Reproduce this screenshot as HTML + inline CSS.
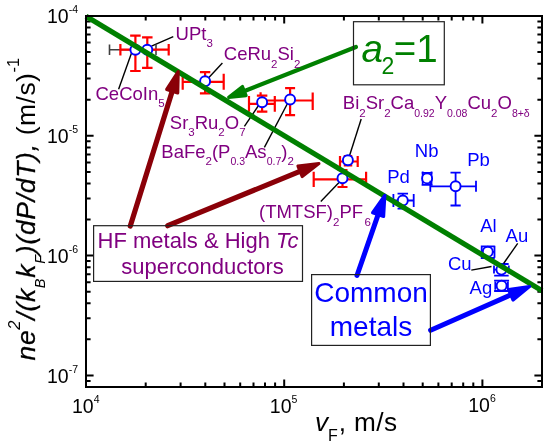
<!DOCTYPE html><html><head><meta charset="utf-8"><style>html,body{margin:0;padding:0;background:#fff;width:550px;height:446px;overflow:hidden}svg{display:block}text{font-family:"Liberation Sans",Arial,sans-serif}</style></head><body><svg width="550" height="446" viewBox="0 0 550 446"><rect x="0" y="0" width="550" height="446" fill="#fff"/><path d="M145.7 387V382.4M145.7 16V20.6M180.6 387V382.4M180.6 16V20.6M205.3 387V382.4M205.3 16V20.6M224.5 387V382.4M224.5 16V20.6M240.2 387V382.4M240.2 16V20.6M253.5 387V382.4M253.5 16V20.6M265.0 387V382.4M265.0 16V20.6M275.1 387V382.4M275.1 16V20.6M284.2 387V379.4M284.2 16V23.6M343.9 387V382.4M343.9 16V20.6M378.8 387V382.4M378.8 16V20.6M403.5 387V382.4M403.5 16V20.6M422.7 387V382.4M422.7 16V20.6M438.4 387V382.4M438.4 16V20.6M451.7 387V382.4M451.7 16V20.6M463.2 387V382.4M463.2 16V20.6M473.3 387V382.4M473.3 16V20.6M482.4 387V379.4M482.4 16V23.6M86 135.8H93.6M542 135.8H534.4M86 99.7H90.6M542 99.7H537.4M86 78.6H90.6M542 78.6H537.4M86 63.7H90.6M542 63.7H537.4M86 52.1H90.6M542 52.1H537.4M86 42.6H90.6M542 42.6H537.4M86 34.6H90.6M542 34.6H537.4M86 27.6H90.6M542 27.6H537.4M86 21.5H90.6M542 21.5H537.4M86 255.6H93.6M542 255.6H534.4M86 219.5H90.6M542 219.5H537.4M86 198.4H90.6M542 198.4H537.4M86 183.5H90.6M542 183.5H537.4M86 171.9H90.6M542 171.9H537.4M86 162.4H90.6M542 162.4H537.4M86 154.4H90.6M542 154.4H537.4M86 147.4H90.6M542 147.4H537.4M86 141.3H90.6M542 141.3H537.4M86 375.4H93.6M542 375.4H534.4M86 339.3H90.6M542 339.3H537.4M86 318.2H90.6M542 318.2H537.4M86 303.3H90.6M542 303.3H537.4M86 291.7H90.6M542 291.7H537.4M86 282.2H90.6M542 282.2H537.4M86 274.2H90.6M542 274.2H537.4M86 267.2H90.6M542 267.2H537.4M86 261.1H90.6M542 261.1H537.4M86 380.9H90.6M542 380.9H537.4" stroke="#000" stroke-width="2" fill="none"/><line x1="118.6" y1="89.3" x2="131.7" y2="52.5" stroke="#000" stroke-width="1.4"/><line x1="151.5" y1="46.2" x2="173.3" y2="36.7" stroke="#000" stroke-width="1.4"/><line x1="208.2" y1="78.2" x2="222.4" y2="63.1" stroke="#000" stroke-width="1.4"/><line x1="244.4" y1="126.4" x2="258.5" y2="105.5" stroke="#000" stroke-width="1.4"/><line x1="264.4" y1="147.3" x2="287.5" y2="103.5" stroke="#000" stroke-width="1.4"/><line x1="361.2" y1="119" x2="349.5" y2="155.8" stroke="#000" stroke-width="1.4"/><line x1="320.8" y1="201.5" x2="339" y2="182.5" stroke="#000" stroke-width="1.4"/><path d="M109.5 49.7H156M109.5 44.45v10.5M156 44.45v10.5" stroke="#404040" stroke-width="1.6" fill="none"/><path d="M135.4 35.7V71M130.15 35.7h10.5M130.15 71h10.5" stroke="#ff0000" stroke-width="2.2" fill="none"/><path d="M120.4 49.7H168.7M120.4 43.95v11.5M168.7 43.95v11.5M147.3 37.4V67.9M142.05 37.4h10.5M142.05 67.9h10.5" stroke="#ff0000" stroke-width="2.2" fill="none"/><circle cx="135.4" cy="49.7" r="5.0" fill="#fff" stroke="#0000ff" stroke-width="1.9"/><circle cx="147.3" cy="49.7" r="5.0" fill="#fff" stroke="#0000ff" stroke-width="1.9"/><path d="M182.7 81.8H223.7M182.7 73.8v16M223.7 73.8v16M205.1 72.1V93.4M199.9 72.1h10.4M199.9 93.4h10.4" stroke="#ff0000" stroke-width="2.2" fill="none"/><circle cx="205.1" cy="81.3" r="5.0" fill="#fff" stroke="#0000ff" stroke-width="1.9"/><path d="M249 103.8H274.8M249 95.89999999999999v15.8M274.8 95.89999999999999v15.8M262.1 95.6V111.6M256.85 95.6h10.5M256.85 111.6h10.5" stroke="#ff0000" stroke-width="2.2" fill="none"/><path d="M260.6 92.3V96M267 100.5H312.7M312.7 92.6V110.1" stroke="#f00" stroke-width="2.2"/><path d="M290.1 88.1V115.2M285.1 88.1h10M285.1 115.2h10" stroke="#ff0000" stroke-width="2.2" fill="none"/><circle cx="262.1" cy="102.3" r="5.0" fill="#fff" stroke="#0000ff" stroke-width="1.9"/><circle cx="290.1" cy="99.5" r="5.0" fill="#fff" stroke="#0000ff" stroke-width="1.9"/><path d="M340 161.5H357.7M340 156.0v11M357.7 156.0v11M348 156.2V165.5M343.75 156.2h8.5M343.75 165.5h8.5" stroke="#ff0000" stroke-width="2.2" fill="none"/><circle cx="347.9" cy="160.3" r="5.0" fill="#fff" stroke="#0000ff" stroke-width="1.9"/><path d="M313.7 179.3H366.1M313.7 171.65v15.3M366.1 171.65v15.3M342.5 170V187M337.5 170h10M337.5 187h10" stroke="#ff0000" stroke-width="2.2" fill="none"/><circle cx="342.5" cy="178.3" r="5.0" fill="#fff" stroke="#0000ff" stroke-width="1.9"/><path d="M422.7 178.4H431.5M422.7 171.4v14M431.5 171.4v14M427.1 172.9V184.8M421.6 172.9h11M421.6 184.8h11" stroke="#0000ff" stroke-width="1.8" fill="none"/><circle cx="427.1" cy="178.4" r="5.0" fill="#fff" stroke="#0000ff" stroke-width="1.9"/><path d="M430.3 186.3H476M430.3 180.8v11M476 180.8v11M455.6 172.7V205.5M450.5 172.7h10.2M450.5 205.5h10.2" stroke="#0000ff" stroke-width="1.8" fill="none"/><circle cx="455.6" cy="186.3" r="5.0" fill="#fff" stroke="#0000ff" stroke-width="1.9"/><path d="M393.4 200.5H413.7M393.4 194.1v12.8M413.7 194.1v12.8M402.8 193.7V208.6M397.55 193.7h10.5M397.55 208.6h10.5" stroke="#0000ff" stroke-width="1.8" fill="none"/><circle cx="402.8" cy="200.5" r="5.0" fill="#fff" stroke="#0000ff" stroke-width="1.9"/><path d="M481.7 251.8H494.5M481.7 245.8v12M494.5 245.8v12M487.8 246.4V258M480.8 246.4h14M480.8 258h14" stroke="#0000ff" stroke-width="1.8" fill="none"/><circle cx="487.8" cy="251.8" r="5.0" fill="#fff" stroke="#0000ff" stroke-width="1.9"/><path d="M494 269.6H508.8M494 265.6v8M508.8 265.6v8M501.4 264V275.7M494.15 264h14.5M494.15 275.7h14.5" stroke="#0000ff" stroke-width="1.8" fill="none"/><circle cx="501.4" cy="269.6" r="5.0" fill="#fff" stroke="#0000ff" stroke-width="1.9"/><path d="M495.3 285.8H507.9M495.3 281.8v8M507.9 281.8v8M501.6 280.7V291M494.1 280.7h15M494.1 291h15" stroke="#0000ff" stroke-width="1.8" fill="none"/><circle cx="501.6" cy="285.8" r="5.0" fill="#fff" stroke="#0000ff" stroke-width="1.9"/><line x1="471.3" y1="270.1" x2="491.5" y2="266.5" stroke="#000" stroke-width="1.4"/><line x1="517.7" y1="243.3" x2="503.6" y2="263.5" stroke="#000" stroke-width="1.4"/><line x1="86" y1="16.3" x2="542" y2="290.8" stroke="#008000" stroke-width="5.2"/><line x1="355.9" y1="47.0" x2="242.1" y2="92.0" stroke="#008000" stroke-width="4.2" stroke-linecap="round"/><polygon points="228.7,97.3 242.5,86.5 246.1,95.6" fill="#008000" stroke="#008000" stroke-width="3.2" stroke-linejoin="round"/><line x1="130.3" y1="226" x2="172.9" y2="88.9" stroke="#8a0008" stroke-width="5.2" stroke-linecap="round"/><polygon points="178.2,71.7 177.7,92.9 166.7,89.4" fill="#8a0008" stroke="#8a0008" stroke-width="3.2" stroke-linejoin="round"/><line x1="167.7" y1="225.7" x2="302.3" y2="170.4" stroke="#8a0008" stroke-width="5.2" stroke-linecap="round"/><polygon points="318.9,163.6 302.2,176.5 298.0,166.1" fill="#8a0008" stroke="#8a0008" stroke-width="3.2" stroke-linejoin="round"/><line x1="357" y1="275.5" x2="378.9" y2="212.4" stroke="#0000ff" stroke-width="5" stroke-linecap="round"/><polygon points="384.8,195.4 383.6,216.5 372.6,212.7" fill="#0000ff" stroke="#0000ff" stroke-width="3.2" stroke-linejoin="round"/><line x1="430.6" y1="330.3" x2="513.0" y2="293.9" stroke="#0000ff" stroke-width="5" stroke-linecap="round"/><polygon points="529.5,286.6 513.1,300.0 508.6,289.7" fill="#0000ff" stroke="#0000ff" stroke-width="3.2" stroke-linejoin="round"/><rect x="353.5" y="21.7" width="90.8" height="63.1" fill="none" stroke="#222" stroke-width="1.2"/><rect x="93.6" y="225.7" width="208.9" height="55.7" fill="none" stroke="#222" stroke-width="1.2"/><rect x="311.6" y="274.6" width="118.8" height="70.8" fill="none" stroke="#222" stroke-width="1.2"/><rect x="86" y="16" width="456" height="371" fill="none" stroke="#000" stroke-width="2"/><text x="175.6" y="39.6" fill="#800080" font-size="18.5" >UPt<tspan dy="7.5" font-size="11.5">3</tspan></text><text x="223.8" y="60.0" fill="#800080" font-size="18.5" >CeRu<tspan dy="7.5" font-size="11.5">2</tspan><tspan dy="-7.5">Si</tspan><tspan dy="7.5" font-size="11.5">2</tspan></text><text x="95.5" y="99.9" fill="#800080" font-size="18.5" >CeCoIn<tspan dy="7.5" font-size="11.5">5</tspan></text><text x="169.8" y="128.5" fill="#800080" font-size="18.5" >Sr<tspan dy="7.5" font-size="11.5">3</tspan><tspan dy="-7.5">Ru</tspan><tspan dy="7.5" font-size="11.5">2</tspan><tspan dy="-7.5">O</tspan><tspan dy="7.5" font-size="11.5">7</tspan></text><text x="161.3" y="157.6" fill="#800080" font-size="18.5" >BaFe<tspan dy="7.5" font-size="11.5">2</tspan><tspan dy="-7.5">(P</tspan><tspan dy="7.5" font-size="10.5">0.3</tspan><tspan dy="-7.5">As</tspan><tspan dy="7.5" font-size="10.5">0.7</tspan><tspan dy="-7.5">)</tspan><tspan dy="7.5" font-size="11.5">2</tspan></text><text x="342.8" y="109" fill="#800080" font-size="18.5" >Bi<tspan dy="7.5" font-size="11.5">2</tspan><tspan dy="-7.5">Sr</tspan><tspan dy="7.5" font-size="11.5">2</tspan><tspan dy="-7.5">Ca</tspan><tspan dy="7.5" font-size="10.5">0.92</tspan><tspan dy="-7.5">Y</tspan><tspan dy="7.5" font-size="10.5">0.08</tspan><tspan dy="-7.5">Cu</tspan><tspan dy="7.5" font-size="11.5">2</tspan><tspan dy="-7.5">O</tspan><tspan dy="7.5" font-size="10.5">8+δ</tspan></text><text x="259" y="218.2" fill="#800080" font-size="18.5" >(TMTSF)<tspan dy="7.5" font-size="11.5">2</tspan><tspan dy="-7.5">PF</tspan><tspan dy="7.5" dx="1.5" font-size="11.5">6</tspan></text><text x="414.8" y="157.4" fill="#0000ff" font-size="18.5" >Nb</text><text x="467.2" y="166.2" fill="#0000ff" font-size="18.5" >Pb</text><text x="387.2" y="183.3" fill="#0000ff" font-size="18.5" >Pd</text><text x="480.2" y="232.2" fill="#0000ff" font-size="18.5" >Al</text><text x="505.6" y="242.3" fill="#0000ff" font-size="18.5" >Au</text><text x="448" y="269.5" fill="#0000ff" font-size="18.5" >Cu</text><text x="469.6" y="293.7" fill="#0000ff" font-size="18.5" >Ag</text><text x="198" y="247.7" fill="#800080" font-size="22" text-anchor="middle">HF metals &amp; High <tspan font-style="italic">Tc</tspan></text><text x="202.5" y="273.6" fill="#800080" font-size="22" text-anchor="middle">superconductors</text><text x="371" y="302.2" fill="#0000ff" font-size="28" text-anchor="middle">Common</text><text x="371" y="335.7" fill="#0000ff" font-size="28" text-anchor="middle">metals</text><text x="361.5" y="61.5" fill="#008000" font-size="38.5"><tspan font-style="italic">a</tspan><tspan x="381.6" dy="12.5" font-size="23">2</tspan><tspan x="393.7" dy="-12.5">=1</tspan></text><text x="47" y="23.2" fill="#000" font-size="19.5">10<tspan dy="-10" font-size="10.5">-4</tspan></text><text x="47" y="142.7" fill="#000" font-size="19.5">10<tspan dy="-10" font-size="10.5">-5</tspan></text><text x="47" y="262.5" fill="#000" font-size="19.5">10<tspan dy="-10" font-size="10.5">-6</tspan></text><text x="47" y="382.5" fill="#000" font-size="19.5">10<tspan dy="-10" font-size="10.5">-7</tspan></text><text x="72" y="412.8" fill="#000" font-size="19.5">10<tspan dy="-10" font-size="10.5">4</tspan></text><text x="269.8" y="412.5" fill="#000" font-size="19.5">10<tspan dy="-10" font-size="10.5">5</tspan></text><text x="468.2" y="412.4" fill="#000" font-size="19.5">10<tspan dy="-10" font-size="10.5">6</tspan></text><text x="315" y="430.5" fill="#000" font-size="26.2"><tspan font-style="italic">v</tspan><tspan dy="10.5" font-size="16">F</tspan><tspan dy="-10.5" x="338.8">,</tspan><tspan x="354.1" letter-spacing="0.4">m/s</tspan></text><text transform="translate(35,360.5) rotate(-90)" fill="#000" font-size="26.4"><tspan font-style="italic" stroke="#000" stroke-width="0.3" letter-spacing="0.75">ne</tspan><tspan dy="-15.5" font-size="16.5" font-style="italic" letter-spacing="0.75">2</tspan><tspan dy="15.5" font-style="italic" stroke="#000" stroke-width="0.3" letter-spacing="0.75">/(k</tspan><tspan dy="10" font-size="14.5" font-style="italic" letter-spacing="0.75">B</tspan><tspan dy="-10" font-style="italic" stroke="#000" stroke-width="0.3" letter-spacing="0.75">k</tspan><tspan dy="10" font-size="14.5" font-style="italic" letter-spacing="0.75">F</tspan><tspan dy="-10" font-style="italic" stroke="#000" stroke-width="0.3" letter-spacing="0.75">)(dP/dT), </tspan><tspan letter-spacing="0.5">(m/s)</tspan><tspan dy="-16" font-size="16.5">-1</tspan></text></svg></body></html>
